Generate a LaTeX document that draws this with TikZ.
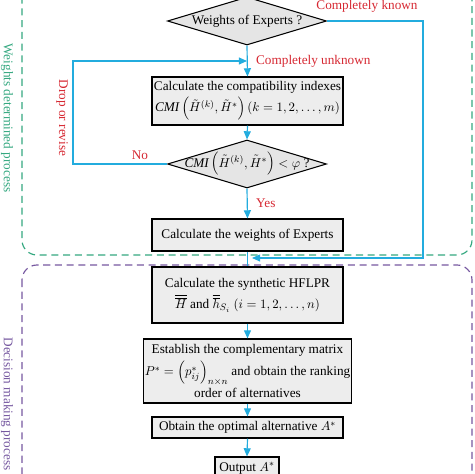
\documentclass[tikz,border=0pt]{standalone}
\usepackage{xcolor}
\usepackage{amsmath}
\usepackage{fontspec}
\setmainfont{Liberation Serif}
\usepackage{tikz}
\usetikzlibrary{arrows.meta,shapes.geometric}

\definecolor{flowblue}{RGB}{35,172,222}
\definecolor{labred}{RGB}{214,40,50}
\definecolor{wgreen}{RGB}{52,168,128}
\definecolor{dpurple}{RGB}{118,88,160}

\begin{document}
\begin{tikzpicture}[x=0.03cm,y=-0.03cm,
  font=\fontsize{11.3}{13.5}\selectfont,
  stepbox/.style={draw, line width=0.9pt, fill=black!7, minimum width=5.73cm, align=center, inner sep=1pt},
  choice/.style={diamond, draw, line width=0.9pt, fill=black!10, aspect=3.3, inner sep=0pt, minimum width=4.77cm, minimum height=1.44cm},
  flow/.style={flowblue, line width=1pt},
  arr/.style={flow, -{Triangle[length=7pt,width=6pt]}},
  redlab/.style={labred},
  zone/.style={dashed, dash pattern=on 6pt off 4pt, line width=1pt, rounded corners=0.45cm}]
\useasboundingbox (0,0) rectangle (474,474);

% process zones
\draw[zone, wgreen] (22,-30) rectangle (472,255);
\draw[zone, dpurple] (22,265) rectangle (472,520);
\node[wgreen, rotate=-90] (wlab) at (7,118) {Weights determined process};
\node[dpurple, rotate=-90] (dlab) at (7,404) {Decision making process};

% weights part
\node[choice] (known) at (247,21) {\makebox[0pt]{Weights of Experts ?}};
\node[stepbox, minimum height=1.44cm] (cmi) at (247.5,101)
  {Calculate the compatibility indexes\\[2pt]
   $\mathit{CMI}\left(\tilde{H}^{(k)},\tilde{H}^{*}\right)\left(k=1,2,\ldots,m\right)$};
\node[choice] (test) at (247,164)
  {\makebox[0pt]{$\mathit{CMI}\left(\tilde{H}^{(k)},\tilde{H}^{*}\right)<\varphi$ ?}};
\node[stepbox, minimum height=0.96cm] (wexp) at (247.5,235) {Calculate the weights of Experts};

% decision part
\node[stepbox, minimum height=1.68cm] (synth) at (247.5,295)
  {Calculate the synthetic HFLPR\\[3pt]
   $\overline{\overline{H}}$ and $\overline{\overline{h}}_{S_i}$ $\left(i=1,2,\ldots,n\right)$};
\node[stepbox, minimum height=1.92cm] (rank) at (247.5,371)
  {Establish the complementary matrix\\[3pt]
   $P^{*}=\left(p^{*}_{ij}\right)_{n\times n}$ and obtain the ranking\\[1pt]
   order of alternatives};
\node[stepbox, minimum height=0.63cm] (best) at (247.5,427.5) {Obtain the optimal alternative $A^{*}$};
\node[stepbox, minimum width=1.92cm, minimum height=0.66cm] (out) at (247,468) {Output $A^{*}$};

\coordinate (back) at (73,61);
\coordinate (side) at (423,258);
\coordinate (join) at (252,258);

% connectors
\draw[arr] (known.south) -- (cmi.north);
\draw[arr] (cmi.south) -- (test.north);
\draw[arr] (test.west) -| (back) -- (back -| known.south);
\draw[arr] (test.south) -- (wexp.north);
\draw[flow] (wexp.south) -- (synth.north);
\draw[arr] (known.east) -| (side) -- (join);
\draw[arr] (synth.south) -- (rank.north);
\draw[arr] (rank.south) -- (best.north);
\draw[arr] (best.south) -- (out.north);

% labels
\node[redlab] (klab) at (367,6) {Completely known};
\node[redlab, anchor=west] (ulab) at (252,61) {Completely unknown};
\node[redlab] (nolab) at (140,155) {No};
\node[redlab, anchor=west] (ylab) at (252,203) {Yes};
\node[redlab, rotate=-90] (drlab) at (62,118) {Drop or revise};
\end{tikzpicture}
\end{document}
